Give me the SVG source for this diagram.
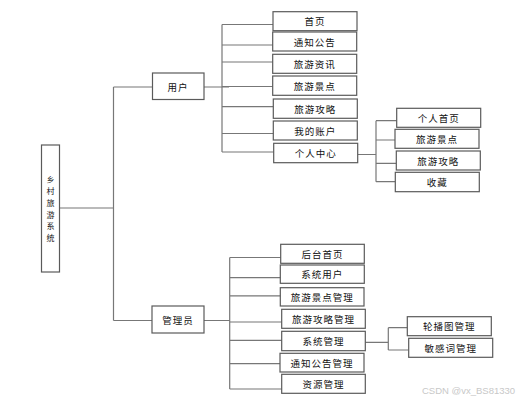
<svg xmlns="http://www.w3.org/2000/svg" width="517" height="401" viewBox="0 0 517 401">
<style>
.box{fill:#fff;stroke:#5a5a5a;stroke-width:1.2}
.t{font-family:"Noto Sans CJK SC","Liberation Sans",sans-serif;font-size:9.5px;fill:#111;text-anchor:middle;dominant-baseline:central;letter-spacing:1px}
.rt{font-family:"Noto Sans CJK SC","Liberation Sans",sans-serif;font-size:8px;fill:#111;text-anchor:middle;dominant-baseline:central}
.ln{fill:none;stroke:#777;stroke-width:1.2}
.wm{font-family:"Liberation Sans",sans-serif;font-size:9.5px;fill:#c8c8c8}
</style>
<rect width="517" height="401" fill="#fff"/>
<g id="connectors">
<path class="ln" d="M59.5 208H113.5M113.5 87V320.5M113.5 87H152M113.5 320.5H152"/>
<path class="ln" d="M204 87H229M222 24.5V152M222 24.5H273M222 45H273M222 62H273M222 86.5H273M222 106.7H274M222 133.5H274M222 152H274"/>
<path class="ln" d="M357.5 154.5H376M376 120.7V181.7M376 120.7H397M376 140H395M376 163.3H396M376 181.7H395"/>
<path class="ln" d="M204 320.5H229.7M229.7 257.5V389M229.7 257.5H281M229.7 277.7H281M229.7 295.8H281M229.7 322H282M229.7 340.3H282M229.7 363.7H280M229.7 389H282"/>
<path class="ln" d="M365 342.3H388.3M388.3 327.7V350M388.3 327.7H407.5M388.3 350H408.5"/>
</g>
<g id="root"><rect class="box" x="41.5" y="145" width="18" height="127"/>
<text class="rt" x="50.5" y="179">乡</text><text class="rt" x="50.5" y="190.7">村</text><text class="rt" x="50.5" y="202.4">旅</text><text class="rt" x="50.5" y="214.1">游</text><text class="rt" x="50.5" y="225.8">系</text><text class="rt" x="50.5" y="237.5">统</text></g>
<g id="user"><rect class="box" x="152.5" y="73" width="51.5" height="26.5"/><text class="t" x="178" y="86.5">用户</text></g>
<g id="admin"><rect class="box" x="152" y="306" width="52" height="27"/><text class="t" x="178" y="320">管理员</text></g>
<g id="u1"><rect class="box" x="273" y="11.7" width="84" height="19"/><text class="t" x="315" y="21.2">首页</text></g>
<g id="u2"><rect class="box" x="272.7" y="32" width="84" height="19"/><text class="t" x="314.7" y="41.5">通知公告</text></g>
<g id="u3"><rect class="box" x="272.7" y="54.3" width="84" height="19"/><text class="t" x="314.7" y="63.8">旅游资讯</text></g>
<g id="u4"><rect class="box" x="272.7" y="76" width="84" height="19.3"/><text class="t" x="314.7" y="85.6">旅游景点</text></g>
<g id="u5"><rect class="box" x="273.3" y="99" width="84" height="19.3"/><text class="t" x="315.3" y="108.6">旅游攻略</text></g>
<g id="u6"><rect class="box" x="273.3" y="121" width="84" height="19"/><text class="t" x="315.3" y="130.5">我的账户</text></g>
<g id="u7"><rect class="box" x="273.7" y="143.3" width="84" height="19.4"/><text class="t" x="315.7" y="153">个人中心</text></g>
<g id="p1"><rect class="box" x="396.7" y="108.3" width="84" height="19"/><text class="t" x="438.7" y="117.8">个人首页</text></g>
<g id="p2"><rect class="box" x="395" y="129.3" width="84" height="19"/><text class="t" x="437" y="138.8">旅游景点</text></g>
<g id="p3"><rect class="box" x="396.3" y="151" width="84" height="19"/><text class="t" x="438.3" y="160.5">旅游攻略</text></g>
<g id="p4"><rect class="box" x="395.3" y="172.3" width="84" height="19.4"/><text class="t" x="437.3" y="182">收藏</text></g>
<g id="a1"><rect class="box" x="280.7" y="244.3" width="83.6" height="19"/><text class="t" x="322.5" y="253.8">后台首页</text></g>
<g id="a2"><rect class="box" x="280.3" y="265" width="84" height="18.3"/><text class="t" x="322.3" y="274.2">系统用户</text></g>
<g id="a3"><rect class="box" x="280.3" y="287.7" width="83.7" height="18.3"/><text class="t" x="322.2" y="296.9">旅游景点管理</text></g>
<g id="a4"><rect class="box" x="281.7" y="309.3" width="83.6" height="19"/><text class="t" x="323.5" y="318.8">旅游攻略管理</text></g>
<g id="a5"><rect class="box" x="281.7" y="331.3" width="83.6" height="19.4"/><text class="t" x="323.5" y="341">系统管理</text></g>
<g id="a6"><rect class="box" x="280" y="353.3" width="84" height="18.7"/><text class="t" x="322" y="362.7">通知公告管理</text></g>
<g id="a7"><rect class="box" x="281.7" y="374.3" width="83.6" height="19"/><text class="t" x="323.5" y="383.8">资源管理</text></g>
<g id="s1"><rect class="box" x="407.3" y="316.7" width="84" height="19"/><text class="t" x="449.3" y="326.2">轮播图管理</text></g>
<g id="s2"><rect class="box" x="408.7" y="338.3" width="84" height="19"/><text class="t" x="450.7" y="347.8">敏感词管理</text></g>
<text class="wm" x="422" y="394">CSDN @vx_BS81330</text>
</svg>
